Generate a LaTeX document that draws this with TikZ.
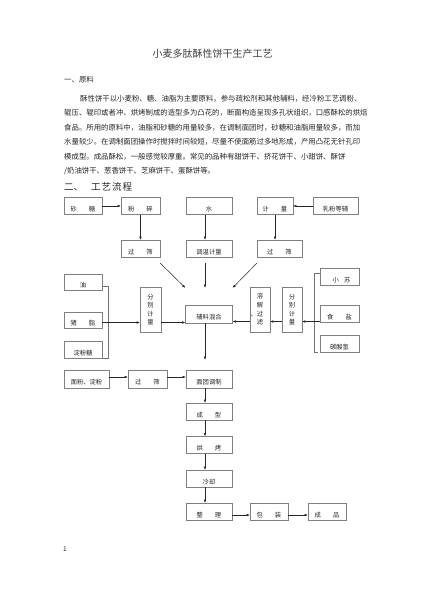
\documentclass[tikz,border=0pt]{standalone}
\usepackage{fontspec}
\setmainfont{Noto Sans CJK SC}
\usetikzlibrary{shadows,arrows.meta}
\XeTeXlinebreaklocale "zh"
\XeTeXlinebreakskip=0pt plus 1pt
\newcommand\gapc{\hspace{12bp}}
\begin{document}
\begin{tikzpicture}[x=1bp,y=-1bp,
  boxbase/.style={draw=black!50, line width=0.35bp, fill=white, inner sep=0pt,
    minimum height=17bp, font=\fontsize{6.3bp}{8.6bp}\selectfont, text=black!85,
    drop shadow={shadow xshift=0.6bp,shadow yshift=-0.6bp,opacity=1,fill=black!75}},
  box/.style={boxbase, text height=11bp, text depth=0pt},
  vbox/.style={boxbase, align=center, minimum width=20bp, minimum height=45bp},
  arr/.style={-{Latex[length=3.2bp,width=2.6bp]}, line width=0.5bp, draw=black!85},
  brk/.style={line width=0.4bp, draw=black!55},
  txt/.style={anchor=base west, inner sep=0pt, text=black!85, font=\fontsize{7.4bp}{9bp}\selectfont}
]
\useasboundingbox[fill=white] (0,0) rectangle (424,600);

% ---------- text ----------
\node[anchor=base, inner sep=0pt, text=black!75, font=\fontsize{10bp}{12bp}\selectfont] (title) at (212.5,57.5) {小麦多肽酥性饼干生产工艺};
\node[txt] (h1) at (64,83) {一、原料};
\node[txt] (p1) at (80,101.5) {\hbox to 282bp{酥性饼干以小麦粉、糖、油脂为主要原料，参与疏松剂和其他辅料，经冷粉工艺调粉、}};
\node[txt] (p2) at (64,116) {\hbox to 298bp{辊压、辊印或者冲、烘烤制成的造型多为凸花的，断面构造呈现多孔状组织，口感酥松的烘焙}};
\node[txt] (p3) at (64,130.5) {\hbox to 298bp{食品。所用的原料中，油脂和砂糖的用量较多，在调制面团时，砂糖和油脂用量较多，而加}};
\node[txt] (p4) at (64,145) {\hbox to 298bp{水量较少。在调制面团操作时搅拌时间较短，尽量不使面筋过多地形成，产用凸花无针孔印}};
\node[txt] (p5) at (64,159.5) {模成型。成品酥松，一般感觉较厚重。常见的品种有甜饼干、挤花饼干、小甜饼、酥饼};
\node[txt] (p6) at (64,174) {/奶油饼干、葱香饼干、芝麻饼干、蛋酥饼等。};
\node[txt, font=\fontsize{9.5bp}{11bp}\selectfont] (h2) at (64,190) {二、\hspace{8bp}工\hspace{1bp}艺\hspace{1bp}流\hspace{1bp}程};
\node[txt, font=\fontsize{6.5bp}{8bp}\selectfont] (pg) at (63,551) {1};

% ---------- row 1 ----------
\node[box, minimum width=38bp] (tang) at (83,206) {砂\gapc 糖};
\node[box, minimum width=39bp] (fensui) at (140.5,206) {粉\gapc 碎};
\node[box, minimum width=46bp] (shui) at (209,206) {水};
\node[box, minimum width=36bp] (jl) at (275,206) {计\gapc 量};
\node[box, minimum width=45bp] (rufen) at (335.5,206) {乳粉等辅};
% ---------- row 2 ----------
\node[box, minimum width=39bp] (gs1) at (140.5,248.5) {过\gapc 筛};
\node[box, minimum width=46bp] (tw) at (209,248.5) {调温计量};
\node[box, minimum width=45bp] (gs2) at (279.5,248.5) {过\gapc 筛};
% ---------- left group ----------
\node[box, minimum width=38bp, minimum height=16bp] (you) at (83,282) {油};
\node[box, minimum width=38bp, minimum height=16bp] (zz) at (83,320) {猪\gapc 脂};
\node[box, minimum width=38bp] (dft) at (83,349.5) {淀粉糖};
\node[vbox, minimum width=21bp] (fb1) at (150.5,309.5) {分\\别\\计\\量};
% ---------- centre ----------
\node[box, minimum width=47bp, minimum height=18bp] (fl) at (209,314) {辅料混合};
% ---------- right group ----------
\node[vbox] (rj) at (260,309.5) {溶\\解\\\llap{、}过\\滤};
\node[vbox] (fb2) at (292,309.5) {分\\别\\计\\量};
\node[box, minimum width=39bp] (xs) at (339.5,276.5) {\hspace{4bp}小\hspace{5bp}苏};
\node[box, minimum width=39bp] (sy) at (339.5,313.5) {食\gapc 盐};
\node[box, minimum width=39bp] (ts) at (339.5,343.5) {碳酸氢};
% ---------- lower chain ----------
\node[box, minimum width=45bp, minimum height=18bp] (mf) at (86.5,379) {面粉、淀粉};
\node[box, minimum width=39bp, minimum height=18bp] (gs3) at (147.5,379) {过\gapc 筛};
\node[box, minimum width=46bp, minimum height=18bp] (mt) at (209,379) {面团调制};
\node[box, minimum width=46bp] (cx) at (209,411.5) {成\gapc 型};
\node[box, minimum width=46bp] (hk) at (209,445) {烘\gapc 烤};
\node[box, minimum width=46bp] (lq) at (209,478.5) {冷却};
\node[box, minimum width=46bp] (zl) at (209,511.5) {整\gapc 理};
\node[box, minimum width=38bp] (bz) at (269,511.5) {包\gapc 装};
\node[box, minimum width=38bp] (cp) at (327,511.5) {成\gapc 品};

% ---------- connectors ----------
\draw[arr] (tang) -- (fensui);
\draw[arr] (rufen) -- (jl);
\draw[arr] (fensui) -- (gs1);
\draw[arr] ([xshift=-4bp]shui.south) -- ([xshift=-4bp]tw.north);
\draw[arr] (jl.south) -- (jl.south |- gs2.north);
\draw[arr] ([yshift=-6bp]gs1.south east) -- ([yshift=17bp]fl.north west);
\draw[arr] ([xshift=-4bp,yshift=-6bp]tw.south) -- ([xshift=-4bp,yshift=17bp]fl.north);
\draw[arr] ([yshift=-6bp]gs2.south west) -- ([yshift=17bp]fl.north east);

% left bracket and arrows
\draw[brk] ([yshift=-4bp]you.east) -| ([xshift=6bp,yshift=-0.5bp]dft.south east) -- ++(-5,0);
\coordinate (ly) at ([yshift=-2.5bp]zz.east);
\draw[arr] (ly) -- (ly -| fb1.west);
\draw[arr] (ly -| fb1.east) -- (ly -| fl.west);

% right bracket and arrows
\draw[brk] ([yshift=3.5bp]xs.west) -| ([xshift=-6bp]ts.south west) -- ++(4,0);
\coordinate (ry) at ([yshift=-8bp]sy.west);
\draw[arr] (ry) -- (ry -| fb2.east);
\draw[arr] (ry -| fb2.west) -- (ry -| rj.east);
\draw[arr] (ry -| rj.west) -- (ry -| fl.east);

% lower chain
\draw[arr] ([xshift=-4bp]fl.south) -- ([xshift=-4bp,yshift=10bp]mt.north);
\draw[arr] ([yshift=2bp]mf.east) -- ([yshift=2bp]gs3.west);
\draw[arr] ([yshift=2bp]gs3.east) -- ([yshift=2bp]mt.west);
\draw[arr] ([xshift=-4bp]mt.south) -- ([xshift=-4bp]cx.north);
\draw[arr] ([xshift=-4bp]cx.south) -- ([xshift=-4bp]hk.north);
\draw[arr] ([xshift=-4bp]hk.south) -- ([xshift=-4bp]lq.north);
\draw[arr] ([xshift=-4bp]lq.south) -- ([xshift=-4bp]zl.north);
\draw[arr] ([yshift=-3.5bp]zl.east) -- ([yshift=-3.5bp]bz.west);
\draw[arr] ([yshift=-3.5bp]bz.east) -- ([yshift=-3.5bp]cp.west);
\end{tikzpicture}
\end{document}
